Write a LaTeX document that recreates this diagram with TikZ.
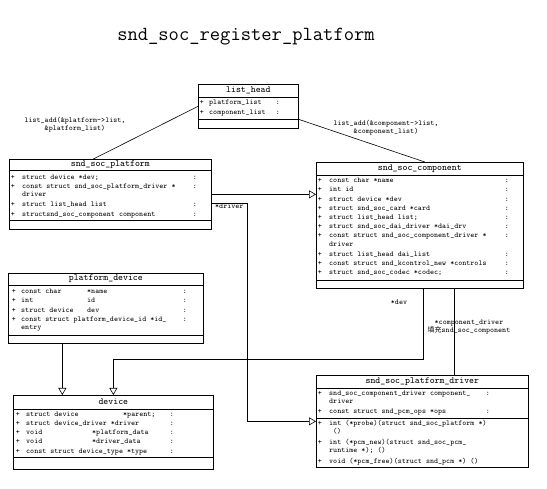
\documentclass[tikz,border=0pt]{standalone}
\usepackage{fontspec}
\newfontfamily\cjk{Noto Sans CJK SC}
\usetikzlibrary{arrows.meta,positioning}

\newcommand\rowfont{\ttfamily\fontsize{7.6}{8.4}\selectfont}
\tikzset{
  umlbox/.style={draw, line width=0.7pt, rectangle, anchor=north west, inner sep=0pt},
  umlhead/.style={inner sep=0pt, font=\ttfamily\fontsize{9.4}{10}\selectfont},
  umlrow/.style={anchor=west, inner sep=0pt, font=\rowfont, text height=4.8pt, text depth=1.4pt},
  umlsign/.style={inner sep=0pt, font=\rowfont, text height=4.8pt, text depth=1.4pt},
  inherit/.style={-{Triangle[open, length=7pt, width=8pt, fill=white]}, line width=0.6pt},
  link/.style={line width=0.6pt},
  note/.style={inner sep=0pt, font=\rowfont, align=center},
}

\begin{document}
\begin{tikzpicture}[x=1pt, y=-1pt]
    \useasboundingbox (0,0) rectangle (547,489);
    \node[font=\ttfamily\fontsize{20}{22}\selectfont] (title) at (246,37) {snd\_soc\_register\_platform};

    % list_head
    \node[umlbox, minimum width=100pt, minimum height=44pt] (lh) at (198,84) {};
    \draw[link] ([yshift=-13pt]lh.north west) -- ([yshift=-13pt]lh.north east);
    \draw[link] ([yshift=9pt]lh.south west) -- ([yshift=9pt]lh.south east);
    \node[umlhead] (lh-name) at ([yshift=-6.5pt]lh.north) {list\_head};
    \foreach \y/\t in {103/platform\_list, 113/component\_list} {
        \node[umlsign] (lh-p\y) at (202,\y) {+};
        \node[umlrow] (lh-r\y) at (209,\y) {\t};
        \node[umlsign] (lh-c\y) at (278,\y) {:};
    }

    % snd_soc_platform
    \node[umlbox, minimum width=202pt, minimum height=70pt] (plat) at (9,159) {};
    \draw[link] ([yshift=-11pt]plat.north west) -- ([yshift=-11pt]plat.north east);
    \draw[link] ([yshift=9pt]plat.south west) -- ([yshift=9pt]plat.south east);
    \node[umlhead] (plat-name) at ([yshift=-5.5pt]plat.north) {snd\_soc\_platform};
    \foreach \y/\t in {178/{struct device *dev;}, 187/{const struct snd\_soc\_platform\_driver *},
                       205/{struct list\_head list}, 215/{structsnd\_soc\_component component}} {
        \node[umlsign] (plat-p\y) at (13,\y) {+};
        \node[umlrow] (plat-r\y) at (22,\y) {\t};
        \node[umlsign] (plat-c\y) at (195,\y) {:};
    }
    \node[umlrow] (plat-r194) at (22,195) {driver};

    % snd_soc_component
    \node[umlbox, minimum width=207pt, minimum height=126pt] (comp) at (316,162) {};
    \draw[link] ([yshift=-13pt]comp.north west) -- ([yshift=-13pt]comp.north east);
    \draw[link] ([yshift=8pt]comp.south west) -- ([yshift=8pt]comp.south east);
    \node[umlhead] (comp-name) at ([yshift=-6.5pt]comp.north) {snd\_soc\_component};
    \foreach \y/\t in {181/{const char *name}, 190/{int id}, 200/{struct device *dev},
                       209/{struct snd\_soc\_card *card}, 218/{struct list\_head list;},
                       227/{struct snd\_soc\_dai\_driver *dai\_drv},
                       236/{const struct snd\_soc\_component\_driver *},
                       255/{struct list\_head dai\_list},
                       264/{const struct snd\_kcontrol\_new *controls},
                       273/{struct snd\_soc\_codec *codec;}} {
        \node[umlsign] (comp-p\y) at (320,\y) {+};
        \node[umlrow] (comp-r\y) at (329,\y) {\t};
        \node[umlsign] (comp-c\y) at (507,\y) {:};
    }
    \node[umlrow] (comp-r245) at (329,245) {driver};

    % platform_device
    \node[umlbox, minimum width=195pt, minimum height=70pt] (pdev) at (8,273) {};
    \draw[link] ([yshift=-12pt]pdev.north west) -- ([yshift=-12pt]pdev.north east);
    \draw[link] ([yshift=8pt]pdev.south west) -- ([yshift=8pt]pdev.south east);
    \node[umlhead] (pdev-name) at ([yshift=-6pt]pdev.north) {platform\_device};
    \foreach \y/\t/\v in {292/{const char}/{*name}, 301/{int}/{id}, 311/{struct device}/{dev},
                          320/{const struct platform\_device\_id *id\_}/{}} {
        \node[umlsign] (pdev-p\y) at (14,\y) {+};
        \node[umlrow] (pdev-r\y) at (21,\y) {\t};
        \node[umlrow] (pdev-v\y) at (87,\y) {\v};
        \node[umlsign] (pdev-c\y) at (185,\y) {:};
    }
    \node[umlrow] (pdev-r328) at (21,328) {entry};

    % device
    \node[umlbox, minimum width=200pt, minimum height=74pt] (dev) at (13,395) {};
    \draw[link] ([yshift=-14pt]dev.north west) -- ([yshift=-14pt]dev.north east);
    \draw[link] ([yshift=12pt]dev.south west) -- ([yshift=12pt]dev.south east);
    \node[umlhead] (dev-name) at ([yshift=-7pt]dev.north) {device};
    \foreach \y/\t/\x/\v in {415/{struct device}/123/{*parent;},
                             424/{struct device\_driver *driver}/92/{},
                             433/{void}/92/{*platform\_data},
                             442/{void}/92/{*driver\_data},
                             452/{const struct device\_type *type}/92/{}} {
        \node[umlsign] (dev-p\y) at (18,\y) {+};
        \node[umlrow] (dev-r\y) at (26,\y) {\t};
        \node[umlrow] (dev-v\y) at (\x,\y) {\v};
        \node[umlsign] (dev-c\y) at (172,\y) {:};
    }

    % snd_soc_platform_driver
    \node[umlbox, minimum width=212pt, minimum height=92pt] (pdrv) at (316,375) {};
    \draw[link] ([yshift=-13pt]pdrv.north west) -- ([yshift=-13pt]pdrv.north east);
    \draw[link] ([yshift=-43pt]pdrv.north west) -- ([yshift=-43pt]pdrv.north east);
    \node[umlhead] (pdrv-name) at ([yshift=-6.5pt]pdrv.north) {snd\_soc\_platform\_driver};
    \foreach \y/\t in {394/{snd\_soc\_component\_driver component\_}, 412/{const struct snd\_pcm\_ops *ops}} {
        \node[umlsign] (pdrv-p\y) at (320,\y) {+};
        \node[umlrow] (pdrv-r\y) at (329,\y) {\t};
        \node[umlsign] (pdrv-c\y) at (488,\y) {:};
    }
    \node[umlrow] (pdrv-r402) at (329,402) {driver};
    \foreach \y/\t in {424/{int (*probe)(struct snd\_soc\_platform *)}, 443/{int (*pcm\_new)(struct snd\_soc\_pcm\_},
                       462/{void (*pcm\_free)(struct snd\_pcm *) ()}} {
        \node[umlsign] (pdrv-p\y) at (320,\y) {+};
        \node[umlrow] (pdrv-r\y) at (329,\y) {\t};
    }
    \node[umlrow] (pdrv-r432) at (333,432) {()};
    \node[umlrow] (pdrv-r451) at (329,451) {runtime *); ()};

    % connectors
    \draw[link] (lh.west) -- ([xshift=-17pt]plat.north);
    \draw[link] ([yshift=-13pt]lh.east) -- ([xshift=5pt]comp.north);
    \node[note] (note-plat) at (75,124.5) {list\_add(\&platform->list,\\\&platform\_list)};
    \node[note] (note-comp) at (386,128) {list\_add(\&component->list,\\\&component\_list)};

    \draw[inherit] (plat.east) -- (plat.east -| comp.west);
    \draw[inherit] ([yshift=-9pt]plat.east) -- ++(36,0) |- (pdrv.west);
    \node[umlrow] (lbl-driver) at (215,207) {*driver};

    \draw[inherit] ([xshift=3.5pt]comp.south) -- ++(0,71) -| (dev.north);
    \node[umlsign] (lbl-dev) at (399,303) {*dev};

    \draw[link] ([xshift=34.5pt]comp.south) -- ([xshift=34.5pt]comp.south |- pdrv.north);
    \node[note] (lbl-cdrv) at (469,327) {*component\_driver\\{\cjk\fontsize{7}{8}\selectfont 填充}snd\_soc\_component};

    \draw[inherit] ([xshift=-43.5pt]pdev.south) -- ([xshift=-43.5pt]pdev.south |- dev.north);
\end{tikzpicture}
\end{document}
